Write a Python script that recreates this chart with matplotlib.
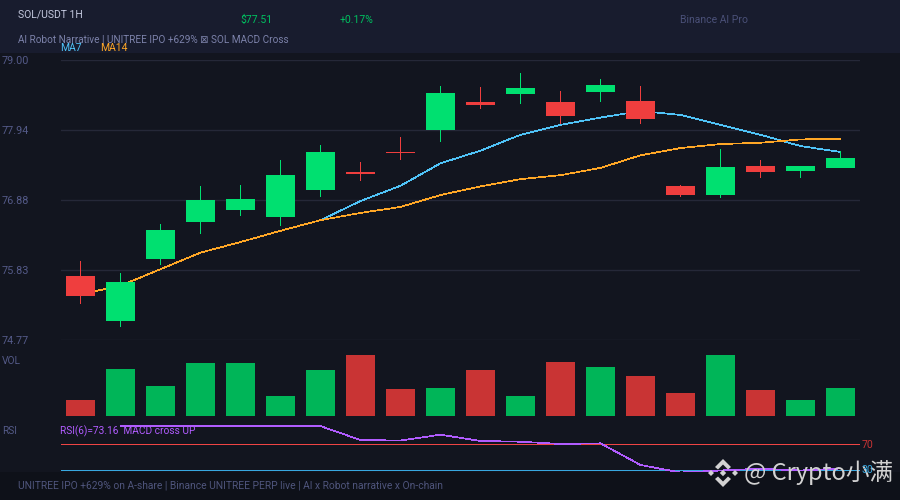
import numpy as np
import matplotlib
matplotlib.use('Agg')
import matplotlib.pyplot as plt
from matplotlib.patches import Rectangle, Polygon

plt.rcParams['font.family'] = ['Roboto', 'DejaVu Sans']

# price candles
opens = [75.74, 75.06, 75.99, 76.55, 76.73, 76.63, 77.04, 77.31, 77.61, 77.94,
         78.37, 78.49, 78.37, 78.52, 78.38, 77.10, 76.96, 77.40, 77.32, 77.37]
closes = [75.43, 75.65, 76.43, 76.88, 76.90, 77.26, 77.61, 77.28, 77.59, 78.50,
          78.32, 78.58, 78.15, 78.62, 78.11, 76.96, 77.38, 77.31, 77.40, 77.52]
highs = [75.96, 75.78, 76.52, 77.10, 77.11, 77.49, 77.72, 77.46, 77.84, 78.61,
         78.59, 78.80, 78.53, 78.71, 78.61, 77.11, 77.66, 77.49, 77.40, 77.63]
lows = [75.31, 74.97, 75.90, 76.37, 76.64, 76.49, 76.93, 77.17, 77.49, 77.76,
        78.26, 78.34, 78.03, 78.37, 78.03, 76.93, 76.92, 77.22, 77.22, 77.37]
ma7 = [76.58, 76.87, 77.10, 77.44, 77.63, 77.87, 78.02, 78.13, 78.23, 78.17,
       78.02, 77.87, 77.70, 77.61]
ma14 = [75.46, 75.59, 75.84, 76.09, 76.25, 76.42, 76.58, 76.69, 76.78, 76.96,
        77.09, 77.20, 77.26, 77.37, 77.56, 77.67, 77.73, 77.75, 77.80, 77.81]
volumes = [16, 47, 30, 53, 53, 20, 46, 61, 27, 28, 46, 20, 54, 49, 40, 23, 61, 26, 16, 28]
is_up = [False, True, True, True, True, True, True, False, False, True,
         False, True, False, True, False, False, True, False, True, True]
# rsi starts at the second candle
rsi = [98, 98, 98, 98, 98, 98, 76.6, 75.8, 84.8, 75.1, 74, 70.5, 71.5,
       38.2, 26.6, 29.7, 32.5, 29.7, 32.8]
price_ticks = [79.00, 77.94, 76.88, 75.83, 74.77]

BG = '#12151f'
HEADER = '#181c2e'
FOOTER = '#0e1119'
GRID = '#252838'
UP = '#00e070'
DOWN = '#ef3e3e'
VOL_UP = '#00b558'
VOL_DOWN = '#c93434'
AXIS_TXT = '#545a88'


def px_axes(left, top, right, bottom):
    return fig.add_axes([left / 900, 1 - bottom / 500, (right - left) / 900, (bottom - top) / 500])


fig = plt.figure(figsize=(9, 5), dpi=100, facecolor=BG)
fig.patches.append(Rectangle((0, 1 - 53 / 500), 1, 53 / 500, transform=fig.transFigure, color=HEADER, lw=0, zorder=-1))
fig.patches.append(Rectangle((0, 0), 1, 28 / 500, transform=fig.transFigure, color=FOOTER, lw=0, zorder=-1))

x = np.arange(20) + 0.5
colors = [UP if u else DOWN for u in is_up]
vol_colors = [VOL_UP if u else VOL_DOWN for u in is_up]

# main price panel
ax = px_axes(60.5, 60, 860.5, 340)
ax.patch.set_alpha(0)
ax.set_xlim(0, 20)
ax.set_ylim(74.77, 79.00)
for s in ax.spines.values():
    s.set_visible(False)
ax.set_xticks([])
ax.set_yticks(price_ticks, ['%.2f' % t for t in price_ticks], ha='left')
ax.tick_params(axis='y', length=0, pad=42.5, labelsize=7.8, labelcolor=AXIS_TXT)
ax.grid(axis='y', color=GRID, lw=1.0)
ax.set_axisbelow(True)
ax.plot(x[6:], ma7, color='#4fc3f7', lw=0.5, antialiased=False, zorder=2)
ax.plot(x, ma14, color='#ffa726', lw=0.5, antialiased=False, zorder=2)
# wicks as very narrow bars so they stay crisp and keep their colour
ax.bar(x, np.array(highs) - np.array(lows), bottom=lows, width=0.03, color=colors, lw=0, zorder=3)
ax.bar(x, np.abs(np.array(closes) - np.array(opens)), bottom=np.minimum(opens, closes),
       width=0.725, color=colors, lw=0, zorder=4)

# volume panel
ax2 = px_axes(60.5, 350, 860.5, 416)
ax2.patch.set_alpha(0)
ax2.set_xlim(0, 20)
ax2.set_ylim(0, 66)
ax2.axis('off')
ax2.bar(x, volumes, width=0.725, color=vol_colors, lw=0)

# rsi panel, the footer band cuts it off at the bottom
ax3 = px_axes(60.5, 420, 860.5, 472)
ax3.patch.set_alpha(0)
ax3.set_xlim(0, 20)
ax3.set_ylim(27.4, 107.4)
ax3.axis('off')
ax3.axhline(70, color='#ef4444', lw=0.72)
ax3.axhline(30, color='#38a8e0', lw=0.72)
ax3.plot(x[1:], rsi, color='#b15cff', lw=0.5, antialiased=False)


def label(px, py, s, color, size=7.3, **kw):
    fig.text(px / 900, 1 - py / 500, s, color=color, fontsize=size, va='center', **kw)


label(18, 14, 'SOL/USDT 1H', '#c5cae0', 7.5)
label(240, 20, '$77.51', '#00c060', 7.5)
label(340, 20, '+0.17%', '#00c060', 7.5)
label(680, 20, 'Binance AI Pro', '#4a5078', 7.5)
label(18, 40, 'AI Robot Narrative | UNITREE IPO +629% \u22a0 SOL MACD Cross', '#7c82aa', 7.2)
label(60, 48, 'MA7', '#4fc3f7', 7.5)
label(100, 48, 'MA14', '#ffa726', 7.5)
label(2, 361, 'VOL', AXIS_TXT, 7.3)
label(2, 431, 'RSI', AXIS_TXT, 7.3)
label(60, 431, 'RSI(6)=73.16  MACD cross UP', '#b15cff', 7.3)
label(862, 445, '70', '#c93434', 7.5)
label(862, 470, '30', '#38a8e0', 7.5)
label(18, 486, 'UNITREE IPO +629% on A-share | Binance UNITREE PERP live | AI x Robot narrative x On-chain', '#4f557c', 7.35)

# watermark on top of everything
top = fig.add_axes([0, 0, 1, 1])
top.set_xlim(0, 900)
top.set_ylim(500, 0)
top.axis('off')
WM = '#d2d2d2'
cx, cy = 723, 473
for dx, dy, r in [(-12, 0, 3), (12, 0, 3), (0, 0, 3.2)]:
    top.add_patch(Polygon([(cx + dx - r, cy + dy), (cx + dx, cy + dy - r), (cx + dx + r, cy + dy), (cx + dx, cy + dy + r)], color=WM, lw=0))
top.add_patch(Polygon([(cx, cy - 14), (cx + 8, cy - 6), (cx + 5, cy - 3.5), (cx, cy - 8.5), (cx - 5, cy - 3.5), (cx - 8, cy - 6)], color=WM, lw=0))
top.add_patch(Polygon([(cx, cy + 14), (cx + 8, cy + 6), (cx + 5, cy + 3.5), (cx, cy + 8.5), (cx - 5, cy + 3.5), (cx - 8, cy + 6)], color=WM, lw=0))
top.text(744, 473, '@ Crypto\u5c0f\u6ee1', color=WM, fontsize=17, va='center',
         family=['Noto Sans CJK SC', 'DejaVu Sans'])

fig.savefig('out.png', dpi=100, facecolor=BG)
